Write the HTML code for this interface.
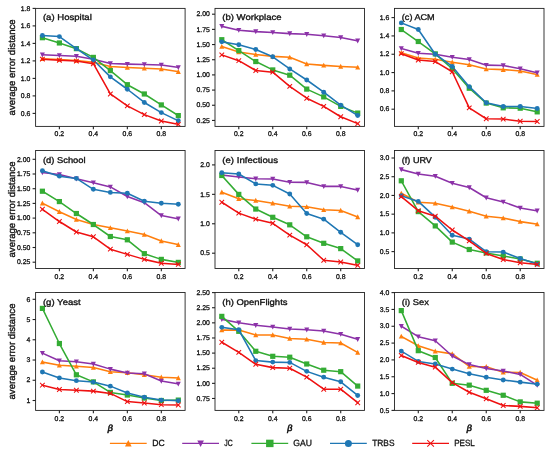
<!DOCTYPE html><html><head><meta charset="utf-8"><style>html,body{margin:0;padding:0;background:#fff;}svg{display:block;filter:blur(0.4px);}text{font-family:"Liberation Sans",sans-serif;text-rendering:geometricPrecision;fill:#111;stroke:#111;stroke-width:0.22px;}</style></head><body>
<svg width="550" height="452" viewBox="0 0 550 452">
<rect width="550" height="452" fill="#fff"/>
<clipPath id="c0"><rect x="35.60" y="8.40" width="149.50" height="118.00"/></clipPath>
<g clip-path="url(#c0)">
<polyline points="42.40,58.71 59.38,59.59 76.37,60.46 93.36,62.21 110.35,66.41 127.34,67.46 144.33,68.34 161.32,68.95 178.30,71.66" fill="none" stroke="#ff7f0e" stroke-width="1.55" stroke-linejoin="round" stroke-linecap="square"/>
<polygon points="42.40,56.06 39.88,60.96 44.91,60.96" fill="#ff7f0e"/>
<polygon points="59.38,56.94 56.87,61.84 61.90,61.84" fill="#ff7f0e"/>
<polygon points="76.37,57.81 73.86,62.71 78.89,62.71" fill="#ff7f0e"/>
<polygon points="93.36,59.56 90.84,64.47 95.88,64.47" fill="#ff7f0e"/>
<polygon points="110.35,63.76 107.83,68.67 112.87,68.67" fill="#ff7f0e"/>
<polygon points="127.34,64.81 124.82,69.72 129.86,69.72" fill="#ff7f0e"/>
<polygon points="144.33,65.69 141.81,70.59 146.84,70.59" fill="#ff7f0e"/>
<polygon points="161.32,66.30 158.80,71.20 163.83,71.20" fill="#ff7f0e"/>
<polygon points="178.30,69.01 175.79,73.92 180.82,73.92" fill="#ff7f0e"/>
<polyline points="42.40,54.77 59.38,55.48 76.37,56.35 93.36,59.15 110.35,63.53 127.34,64.14 144.33,64.40 161.32,64.93 178.30,67.46" fill="none" stroke="#8c32a8" stroke-width="1.55" stroke-linejoin="round" stroke-linecap="square"/>
<polygon points="42.40,57.42 39.88,52.52 44.91,52.52" fill="#8c32a8"/>
<polygon points="59.38,58.12 56.87,53.22 61.90,53.22" fill="#8c32a8"/>
<polygon points="76.37,59.00 73.86,54.10 78.89,54.10" fill="#8c32a8"/>
<polygon points="93.36,61.80 90.84,56.90 95.88,56.90" fill="#8c32a8"/>
<polygon points="110.35,66.18 107.83,61.27 112.87,61.27" fill="#8c32a8"/>
<polygon points="127.34,66.79 124.82,61.89 129.86,61.89" fill="#8c32a8"/>
<polygon points="144.33,67.05 141.81,62.15 146.84,62.15" fill="#8c32a8"/>
<polygon points="161.32,67.58 158.80,62.67 163.83,62.67" fill="#8c32a8"/>
<polygon points="178.30,70.11 175.79,65.21 180.82,65.21" fill="#8c32a8"/>
<polyline points="42.40,37.71 59.38,42.96 76.37,48.65 93.36,57.40 110.35,70.61 127.34,84.70 144.33,93.98 161.32,104.91 178.30,115.59" fill="none" stroke="#34ac34" stroke-width="1.55" stroke-linejoin="round" stroke-linecap="square"/>
<rect x="39.80" y="35.12" width="5.19" height="5.19" fill="#34ac34"/>
<rect x="56.79" y="40.37" width="5.19" height="5.19" fill="#34ac34"/>
<rect x="73.78" y="46.05" width="5.19" height="5.19" fill="#34ac34"/>
<rect x="90.76" y="54.80" width="5.19" height="5.19" fill="#34ac34"/>
<rect x="107.75" y="68.02" width="5.19" height="5.19" fill="#34ac34"/>
<rect x="124.74" y="82.10" width="5.19" height="5.19" fill="#34ac34"/>
<rect x="141.73" y="91.38" width="5.19" height="5.19" fill="#34ac34"/>
<rect x="158.72" y="102.32" width="5.19" height="5.19" fill="#34ac34"/>
<rect x="175.71" y="112.99" width="5.19" height="5.19" fill="#34ac34"/>
<polyline points="42.40,35.53 59.38,36.58 76.37,48.65 93.36,60.03 110.35,76.83 127.34,89.25 144.33,102.46 161.32,112.61 178.30,120.75" fill="none" stroke="#1f77b4" stroke-width="1.55" stroke-linejoin="round" stroke-linecap="square"/>
<circle cx="42.40" cy="35.53" r="2.44" fill="#1f77b4"/>
<circle cx="59.38" cy="36.58" r="2.44" fill="#1f77b4"/>
<circle cx="76.37" cy="48.65" r="2.44" fill="#1f77b4"/>
<circle cx="93.36" cy="60.03" r="2.44" fill="#1f77b4"/>
<circle cx="110.35" cy="76.83" r="2.44" fill="#1f77b4"/>
<circle cx="127.34" cy="89.25" r="2.44" fill="#1f77b4"/>
<circle cx="144.33" cy="102.46" r="2.44" fill="#1f77b4"/>
<circle cx="161.32" cy="112.61" r="2.44" fill="#1f77b4"/>
<circle cx="178.30" cy="120.75" r="2.44" fill="#1f77b4"/>
<polyline points="42.40,59.15 59.38,60.20 76.37,61.08 93.36,63.70 110.35,93.98 127.34,105.88 144.33,114.62 161.32,121.01 178.30,124.43" fill="none" stroke="#ee1111" stroke-width="1.55" stroke-linejoin="round" stroke-linecap="square"/>
<path d="M40.09 56.84L44.70 61.46M40.09 61.46L44.70 56.84" stroke="#ee1111" stroke-width="1.05" fill="none"/>
<path d="M57.08 57.89L61.69 62.51M57.08 62.51L61.69 57.89" stroke="#ee1111" stroke-width="1.05" fill="none"/>
<path d="M74.07 58.77L78.68 63.38M74.07 63.38L78.68 58.77" stroke="#ee1111" stroke-width="1.05" fill="none"/>
<path d="M91.06 61.39L95.67 66.01M91.06 66.01L95.67 61.39" stroke="#ee1111" stroke-width="1.05" fill="none"/>
<path d="M108.04 91.67L112.66 96.28M108.04 96.28L112.66 91.67" stroke="#ee1111" stroke-width="1.05" fill="none"/>
<path d="M125.03 103.57L129.64 108.18M125.03 108.18L129.64 103.57" stroke="#ee1111" stroke-width="1.05" fill="none"/>
<path d="M142.02 112.32L146.63 116.93M142.02 116.93L146.63 112.32" stroke="#ee1111" stroke-width="1.05" fill="none"/>
<path d="M159.01 118.71L163.62 123.32M159.01 123.32L163.62 118.71" stroke="#ee1111" stroke-width="1.05" fill="none"/>
<path d="M176.00 122.12L180.61 126.73M176.00 126.73L180.61 122.12" stroke="#ee1111" stroke-width="1.05" fill="none"/>
</g>
<rect x="35.60" y="8.40" width="149.50" height="118.00" fill="none" stroke="#222" stroke-width="0.9"/>
<line x1="32.60" y1="113.40" x2="35.60" y2="113.40" stroke="#222" stroke-width="1.1"/>
<text x="30.40" y="115.60" font-size="6.80" text-anchor="end" textLength="9.54" lengthAdjust="spacingAndGlyphs" style="stroke-width:0.28px">0.6</text>
<line x1="32.60" y1="95.90" x2="35.60" y2="95.90" stroke="#222" stroke-width="1.1"/>
<text x="30.40" y="98.10" font-size="6.80" text-anchor="end" textLength="9.54" lengthAdjust="spacingAndGlyphs" style="stroke-width:0.28px">0.8</text>
<line x1="32.60" y1="78.40" x2="35.60" y2="78.40" stroke="#222" stroke-width="1.1"/>
<text x="30.40" y="80.60" font-size="6.80" text-anchor="end" textLength="9.54" lengthAdjust="spacingAndGlyphs" style="stroke-width:0.28px">1.0</text>
<line x1="32.60" y1="60.90" x2="35.60" y2="60.90" stroke="#222" stroke-width="1.1"/>
<text x="30.40" y="63.10" font-size="6.80" text-anchor="end" textLength="9.54" lengthAdjust="spacingAndGlyphs" style="stroke-width:0.28px">1.2</text>
<line x1="32.60" y1="43.40" x2="35.60" y2="43.40" stroke="#222" stroke-width="1.1"/>
<text x="30.40" y="45.60" font-size="6.80" text-anchor="end" textLength="9.54" lengthAdjust="spacingAndGlyphs" style="stroke-width:0.28px">1.4</text>
<line x1="32.60" y1="25.90" x2="35.60" y2="25.90" stroke="#222" stroke-width="1.1"/>
<text x="30.40" y="28.10" font-size="6.80" text-anchor="end" textLength="9.54" lengthAdjust="spacingAndGlyphs" style="stroke-width:0.28px">1.6</text>
<line x1="32.60" y1="8.40" x2="35.60" y2="8.40" stroke="#222" stroke-width="1.1"/>
<text x="30.40" y="10.60" font-size="6.80" text-anchor="end" textLength="9.54" lengthAdjust="spacingAndGlyphs" style="stroke-width:0.28px">1.8</text>
<line x1="59.38" y1="126.40" x2="59.38" y2="129.20" stroke="#222" stroke-width="1.1"/>
<text x="59.38" y="136.40" font-size="6.80" text-anchor="middle" textLength="9.54" lengthAdjust="spacingAndGlyphs" style="stroke-width:0.28px">0.2</text>
<line x1="93.36" y1="126.40" x2="93.36" y2="129.20" stroke="#222" stroke-width="1.1"/>
<text x="93.36" y="136.40" font-size="6.80" text-anchor="middle" textLength="9.54" lengthAdjust="spacingAndGlyphs" style="stroke-width:0.28px">0.4</text>
<line x1="127.34" y1="126.40" x2="127.34" y2="129.20" stroke="#222" stroke-width="1.1"/>
<text x="127.34" y="136.40" font-size="6.80" text-anchor="middle" textLength="9.54" lengthAdjust="spacingAndGlyphs" style="stroke-width:0.28px">0.6</text>
<line x1="161.32" y1="126.40" x2="161.32" y2="129.20" stroke="#222" stroke-width="1.1"/>
<text x="161.32" y="136.40" font-size="6.80" text-anchor="middle" textLength="9.54" lengthAdjust="spacingAndGlyphs" style="stroke-width:0.28px">0.8</text>
<text x="42.90" y="20.20" font-size="8.40" text-anchor="start" textLength="48.93" lengthAdjust="spacingAndGlyphs" style="stroke-width:0.32px">(a) Hospital</text>
<clipPath id="c1"><rect x="215.00" y="8.40" width="149.50" height="118.00"/></clipPath>
<g clip-path="url(#c1)">
<polyline points="221.80,46.61 238.78,52.02 255.77,54.50 272.76,56.39 289.75,57.30 306.74,63.97 323.73,65.37 340.72,66.52 357.70,67.31" fill="none" stroke="#ff7f0e" stroke-width="1.55" stroke-linejoin="round" stroke-linecap="square"/>
<polygon points="221.80,43.96 219.28,48.87 224.31,48.87" fill="#ff7f0e"/>
<polygon points="238.78,49.37 236.27,54.27 241.30,54.27" fill="#ff7f0e"/>
<polygon points="255.77,51.85 253.26,56.76 258.29,56.76" fill="#ff7f0e"/>
<polygon points="272.76,53.74 270.24,58.64 275.28,58.64" fill="#ff7f0e"/>
<polygon points="289.75,54.65 287.23,59.55 292.27,59.55" fill="#ff7f0e"/>
<polygon points="306.74,61.32 304.22,66.23 309.26,66.23" fill="#ff7f0e"/>
<polygon points="323.73,62.72 321.21,67.62 326.24,67.62" fill="#ff7f0e"/>
<polygon points="340.72,63.87 338.20,68.78 343.23,68.78" fill="#ff7f0e"/>
<polygon points="357.70,64.66 355.19,69.56 360.22,69.56" fill="#ff7f0e"/>
<polyline points="221.80,26.34 238.78,30.22 255.77,31.62 272.76,32.41 289.75,33.62 306.74,34.29 323.73,35.69 340.72,37.51 357.70,40.79" fill="none" stroke="#8c32a8" stroke-width="1.55" stroke-linejoin="round" stroke-linecap="square"/>
<polygon points="221.80,28.99 219.28,24.09 224.31,24.09" fill="#8c32a8"/>
<polygon points="238.78,32.87 236.27,27.97 241.30,27.97" fill="#8c32a8"/>
<polygon points="255.77,34.27 253.26,29.37 258.29,29.37" fill="#8c32a8"/>
<polygon points="272.76,35.06 270.24,30.16 275.28,30.16" fill="#8c32a8"/>
<polygon points="289.75,36.27 287.23,31.37 292.27,31.37" fill="#8c32a8"/>
<polygon points="306.74,36.94 304.22,32.04 309.26,32.04" fill="#8c32a8"/>
<polygon points="323.73,38.34 321.21,33.44 326.24,33.44" fill="#8c32a8"/>
<polygon points="340.72,40.16 338.20,35.26 343.23,35.26" fill="#8c32a8"/>
<polygon points="357.70,43.44 355.19,38.53 360.22,38.53" fill="#8c32a8"/>
<polyline points="221.80,39.69 238.78,50.62 255.77,61.55 272.76,69.92 289.75,75.20 306.74,89.10 323.73,96.87 340.72,106.40 357.70,113.08" fill="none" stroke="#34ac34" stroke-width="1.55" stroke-linejoin="round" stroke-linecap="square"/>
<rect x="219.20" y="37.10" width="5.19" height="5.19" fill="#34ac34"/>
<rect x="236.19" y="48.02" width="5.19" height="5.19" fill="#34ac34"/>
<rect x="253.18" y="58.95" width="5.19" height="5.19" fill="#34ac34"/>
<rect x="270.16" y="67.33" width="5.19" height="5.19" fill="#34ac34"/>
<rect x="287.15" y="72.61" width="5.19" height="5.19" fill="#34ac34"/>
<rect x="304.14" y="86.51" width="5.19" height="5.19" fill="#34ac34"/>
<rect x="321.13" y="94.28" width="5.19" height="5.19" fill="#34ac34"/>
<rect x="338.12" y="103.81" width="5.19" height="5.19" fill="#34ac34"/>
<rect x="355.11" y="110.48" width="5.19" height="5.19" fill="#34ac34"/>
<polyline points="221.80,41.82 238.78,44.73 255.77,49.53 272.76,56.81 289.75,68.95 306.74,80.00 323.73,92.20 340.72,105.13 357.70,115.51" fill="none" stroke="#1f77b4" stroke-width="1.55" stroke-linejoin="round" stroke-linecap="square"/>
<circle cx="221.80" cy="41.82" r="2.44" fill="#1f77b4"/>
<circle cx="238.78" cy="44.73" r="2.44" fill="#1f77b4"/>
<circle cx="255.77" cy="49.53" r="2.44" fill="#1f77b4"/>
<circle cx="272.76" cy="56.81" r="2.44" fill="#1f77b4"/>
<circle cx="289.75" cy="68.95" r="2.44" fill="#1f77b4"/>
<circle cx="306.74" cy="80.00" r="2.44" fill="#1f77b4"/>
<circle cx="323.73" cy="92.20" r="2.44" fill="#1f77b4"/>
<circle cx="340.72" cy="105.13" r="2.44" fill="#1f77b4"/>
<circle cx="357.70" cy="115.51" r="2.44" fill="#1f77b4"/>
<polyline points="221.80,54.87 238.78,60.70 255.77,70.47 272.76,72.17 289.75,86.43 306.74,98.21 323.73,106.40 340.72,116.72 357.70,123.58" fill="none" stroke="#ee1111" stroke-width="1.55" stroke-linejoin="round" stroke-linecap="square"/>
<path d="M219.49 52.56L224.10 57.17M219.49 57.17L224.10 52.56" stroke="#ee1111" stroke-width="1.05" fill="none"/>
<path d="M236.48 58.39L241.09 63.00M236.48 63.00L241.09 58.39" stroke="#ee1111" stroke-width="1.05" fill="none"/>
<path d="M253.47 68.16L258.08 72.77M253.47 72.77L258.08 68.16" stroke="#ee1111" stroke-width="1.05" fill="none"/>
<path d="M270.46 69.86L275.07 74.47M270.46 74.47L275.07 69.86" stroke="#ee1111" stroke-width="1.05" fill="none"/>
<path d="M287.44 84.13L292.06 88.74M287.44 88.74L292.06 84.13" stroke="#ee1111" stroke-width="1.05" fill="none"/>
<path d="M304.43 95.90L309.04 100.51M304.43 100.51L309.04 95.90" stroke="#ee1111" stroke-width="1.05" fill="none"/>
<path d="M321.42 104.10L326.03 108.71M321.42 108.71L326.03 104.10" stroke="#ee1111" stroke-width="1.05" fill="none"/>
<path d="M338.41 114.42L343.02 119.03M338.41 119.03L343.02 114.42" stroke="#ee1111" stroke-width="1.05" fill="none"/>
<path d="M355.40 121.28L360.01 125.89M355.40 125.89L360.01 121.28" stroke="#ee1111" stroke-width="1.05" fill="none"/>
</g>
<rect x="215.00" y="8.40" width="149.50" height="118.00" fill="none" stroke="#222" stroke-width="0.9"/>
<line x1="212.00" y1="120.43" x2="215.00" y2="120.43" stroke="#222" stroke-width="1.1"/>
<text x="209.80" y="122.63" font-size="6.80" text-anchor="end" textLength="13.36" lengthAdjust="spacingAndGlyphs" style="stroke-width:0.28px">0.25</text>
<line x1="212.00" y1="105.25" x2="215.00" y2="105.25" stroke="#222" stroke-width="1.1"/>
<text x="209.80" y="107.45" font-size="6.80" text-anchor="end" textLength="13.36" lengthAdjust="spacingAndGlyphs" style="stroke-width:0.28px">0.50</text>
<line x1="212.00" y1="90.08" x2="215.00" y2="90.08" stroke="#222" stroke-width="1.1"/>
<text x="209.80" y="92.28" font-size="6.80" text-anchor="end" textLength="13.36" lengthAdjust="spacingAndGlyphs" style="stroke-width:0.28px">0.75</text>
<line x1="212.00" y1="74.90" x2="215.00" y2="74.90" stroke="#222" stroke-width="1.1"/>
<text x="209.80" y="77.10" font-size="6.80" text-anchor="end" textLength="13.36" lengthAdjust="spacingAndGlyphs" style="stroke-width:0.28px">1.00</text>
<line x1="212.00" y1="59.73" x2="215.00" y2="59.73" stroke="#222" stroke-width="1.1"/>
<text x="209.80" y="61.93" font-size="6.80" text-anchor="end" textLength="13.36" lengthAdjust="spacingAndGlyphs" style="stroke-width:0.28px">1.25</text>
<line x1="212.00" y1="44.55" x2="215.00" y2="44.55" stroke="#222" stroke-width="1.1"/>
<text x="209.80" y="46.75" font-size="6.80" text-anchor="end" textLength="13.36" lengthAdjust="spacingAndGlyphs" style="stroke-width:0.28px">1.50</text>
<line x1="212.00" y1="29.38" x2="215.00" y2="29.38" stroke="#222" stroke-width="1.1"/>
<text x="209.80" y="31.57" font-size="6.80" text-anchor="end" textLength="13.36" lengthAdjust="spacingAndGlyphs" style="stroke-width:0.28px">1.75</text>
<line x1="212.00" y1="14.20" x2="215.00" y2="14.20" stroke="#222" stroke-width="1.1"/>
<text x="209.80" y="16.40" font-size="6.80" text-anchor="end" textLength="13.36" lengthAdjust="spacingAndGlyphs" style="stroke-width:0.28px">2.00</text>
<line x1="238.78" y1="126.40" x2="238.78" y2="129.20" stroke="#222" stroke-width="1.1"/>
<text x="238.78" y="136.40" font-size="6.80" text-anchor="middle" textLength="9.54" lengthAdjust="spacingAndGlyphs" style="stroke-width:0.28px">0.2</text>
<line x1="272.76" y1="126.40" x2="272.76" y2="129.20" stroke="#222" stroke-width="1.1"/>
<text x="272.76" y="136.40" font-size="6.80" text-anchor="middle" textLength="9.54" lengthAdjust="spacingAndGlyphs" style="stroke-width:0.28px">0.4</text>
<line x1="306.74" y1="126.40" x2="306.74" y2="129.20" stroke="#222" stroke-width="1.1"/>
<text x="306.74" y="136.40" font-size="6.80" text-anchor="middle" textLength="9.54" lengthAdjust="spacingAndGlyphs" style="stroke-width:0.28px">0.6</text>
<line x1="340.72" y1="126.40" x2="340.72" y2="129.20" stroke="#222" stroke-width="1.1"/>
<text x="340.72" y="136.40" font-size="6.80" text-anchor="middle" textLength="9.54" lengthAdjust="spacingAndGlyphs" style="stroke-width:0.28px">0.8</text>
<text x="222.30" y="20.20" font-size="8.40" text-anchor="start" textLength="59.27" lengthAdjust="spacingAndGlyphs" style="stroke-width:0.32px">(b) Workplace</text>
<clipPath id="c2"><rect x="394.50" y="8.40" width="149.50" height="118.00"/></clipPath>
<g clip-path="url(#c2)">
<polyline points="401.30,52.68 418.28,58.09 435.27,59.28 452.26,62.21 469.25,64.77 486.24,69.08 503.23,69.63 520.22,70.91 537.20,74.48" fill="none" stroke="#ff7f0e" stroke-width="1.55" stroke-linejoin="round" stroke-linecap="square"/>
<polygon points="401.30,50.03 398.78,54.94 403.81,54.94" fill="#ff7f0e"/>
<polygon points="418.28,55.44 415.77,60.34 420.80,60.34" fill="#ff7f0e"/>
<polygon points="435.27,56.63 432.76,61.53 437.79,61.53" fill="#ff7f0e"/>
<polygon points="452.26,59.56 449.74,64.46 454.78,64.46" fill="#ff7f0e"/>
<polygon points="469.25,62.12 466.73,67.03 471.77,67.03" fill="#ff7f0e"/>
<polygon points="486.24,66.43 483.72,71.33 488.76,71.33" fill="#ff7f0e"/>
<polygon points="503.23,66.98 500.71,71.88 505.74,71.88" fill="#ff7f0e"/>
<polygon points="520.22,68.26 517.70,73.16 522.73,73.16" fill="#ff7f0e"/>
<polygon points="537.20,71.83 534.69,76.74 539.72,76.74" fill="#ff7f0e"/>
<polyline points="401.30,48.38 418.28,53.23 435.27,54.24 452.26,57.17 469.25,59.55 486.24,65.14 503.23,65.51 520.22,68.71 537.20,72.74" fill="none" stroke="#8c32a8" stroke-width="1.55" stroke-linejoin="round" stroke-linecap="square"/>
<polygon points="401.30,51.03 398.78,46.13 403.81,46.13" fill="#8c32a8"/>
<polygon points="418.28,55.88 415.77,50.98 420.80,50.98" fill="#8c32a8"/>
<polygon points="435.27,56.89 432.76,51.99 437.79,51.99" fill="#8c32a8"/>
<polygon points="452.26,59.82 449.74,54.92 454.78,54.92" fill="#8c32a8"/>
<polygon points="469.25,62.20 466.73,57.30 471.77,57.30" fill="#8c32a8"/>
<polygon points="486.24,67.79 483.72,62.89 488.76,62.89" fill="#8c32a8"/>
<polygon points="503.23,68.16 500.71,63.25 505.74,63.25" fill="#8c32a8"/>
<polygon points="520.22,71.36 517.70,66.46 522.73,66.46" fill="#8c32a8"/>
<polygon points="537.20,75.39 534.69,70.49 539.72,70.49" fill="#8c32a8"/>
<polyline points="401.30,29.51 418.28,41.51 435.27,53.87 452.26,68.71 469.25,88.22 486.24,103.06 503.23,107.83 520.22,108.19 537.20,111.86" fill="none" stroke="#34ac34" stroke-width="1.55" stroke-linejoin="round" stroke-linecap="square"/>
<rect x="398.70" y="26.91" width="5.19" height="5.19" fill="#34ac34"/>
<rect x="415.69" y="38.91" width="5.19" height="5.19" fill="#34ac34"/>
<rect x="432.68" y="51.28" width="5.19" height="5.19" fill="#34ac34"/>
<rect x="449.66" y="66.12" width="5.19" height="5.19" fill="#34ac34"/>
<rect x="466.65" y="85.63" width="5.19" height="5.19" fill="#34ac34"/>
<rect x="483.64" y="100.47" width="5.19" height="5.19" fill="#34ac34"/>
<rect x="500.63" y="105.23" width="5.19" height="5.19" fill="#34ac34"/>
<rect x="517.62" y="105.60" width="5.19" height="5.19" fill="#34ac34"/>
<rect x="534.61" y="109.26" width="5.19" height="5.19" fill="#34ac34"/>
<polyline points="401.30,22.91 418.28,29.51 435.27,54.24 452.26,66.42 469.25,86.67 486.24,102.70 503.23,106.45 520.22,106.45 537.20,108.47" fill="none" stroke="#1f77b4" stroke-width="1.55" stroke-linejoin="round" stroke-linecap="square"/>
<circle cx="401.30" cy="22.91" r="2.44" fill="#1f77b4"/>
<circle cx="418.28" cy="29.51" r="2.44" fill="#1f77b4"/>
<circle cx="435.27" cy="54.24" r="2.44" fill="#1f77b4"/>
<circle cx="452.26" cy="66.42" r="2.44" fill="#1f77b4"/>
<circle cx="469.25" cy="86.67" r="2.44" fill="#1f77b4"/>
<circle cx="486.24" cy="102.70" r="2.44" fill="#1f77b4"/>
<circle cx="503.23" cy="106.45" r="2.44" fill="#1f77b4"/>
<circle cx="520.22" cy="106.45" r="2.44" fill="#1f77b4"/>
<circle cx="537.20" cy="108.47" r="2.44" fill="#1f77b4"/>
<polyline points="401.30,53.69 418.28,60.01 435.27,61.57 452.26,71.74 469.25,107.83 486.24,118.73 503.23,119.09 520.22,121.29 537.20,121.47" fill="none" stroke="#ee1111" stroke-width="1.55" stroke-linejoin="round" stroke-linecap="square"/>
<path d="M398.99 51.38L403.60 56.00M398.99 56.00L403.60 51.38" stroke="#ee1111" stroke-width="1.05" fill="none"/>
<path d="M415.98 57.71L420.59 62.32M415.98 62.32L420.59 57.71" stroke="#ee1111" stroke-width="1.05" fill="none"/>
<path d="M432.97 59.26L437.58 63.87M432.97 63.87L437.58 59.26" stroke="#ee1111" stroke-width="1.05" fill="none"/>
<path d="M449.96 69.43L454.57 74.04M449.96 74.04L454.57 69.43" stroke="#ee1111" stroke-width="1.05" fill="none"/>
<path d="M466.94 105.52L471.56 110.13M466.94 110.13L471.56 105.52" stroke="#ee1111" stroke-width="1.05" fill="none"/>
<path d="M483.93 116.42L488.54 121.03M483.93 121.03L488.54 116.42" stroke="#ee1111" stroke-width="1.05" fill="none"/>
<path d="M500.92 116.79L505.53 121.40M500.92 121.40L505.53 116.79" stroke="#ee1111" stroke-width="1.05" fill="none"/>
<path d="M517.91 118.99L522.52 123.60M517.91 123.60L522.52 118.99" stroke="#ee1111" stroke-width="1.05" fill="none"/>
<path d="M534.90 119.17L539.51 123.78M534.90 123.78L539.51 119.17" stroke="#ee1111" stroke-width="1.05" fill="none"/>
</g>
<rect x="394.50" y="8.40" width="149.50" height="118.00" fill="none" stroke="#222" stroke-width="0.9"/>
<line x1="391.50" y1="109.20" x2="394.50" y2="109.20" stroke="#222" stroke-width="1.1"/>
<text x="389.30" y="111.40" font-size="6.80" text-anchor="end" textLength="9.54" lengthAdjust="spacingAndGlyphs" style="stroke-width:0.28px">0.6</text>
<line x1="391.50" y1="90.88" x2="394.50" y2="90.88" stroke="#222" stroke-width="1.1"/>
<text x="389.30" y="93.08" font-size="6.80" text-anchor="end" textLength="9.54" lengthAdjust="spacingAndGlyphs" style="stroke-width:0.28px">0.8</text>
<line x1="391.50" y1="72.56" x2="394.50" y2="72.56" stroke="#222" stroke-width="1.1"/>
<text x="389.30" y="74.76" font-size="6.80" text-anchor="end" textLength="9.54" lengthAdjust="spacingAndGlyphs" style="stroke-width:0.28px">1.0</text>
<line x1="391.50" y1="54.24" x2="394.50" y2="54.24" stroke="#222" stroke-width="1.1"/>
<text x="389.30" y="56.44" font-size="6.80" text-anchor="end" textLength="9.54" lengthAdjust="spacingAndGlyphs" style="stroke-width:0.28px">1.2</text>
<line x1="391.50" y1="35.92" x2="394.50" y2="35.92" stroke="#222" stroke-width="1.1"/>
<text x="389.30" y="38.12" font-size="6.80" text-anchor="end" textLength="9.54" lengthAdjust="spacingAndGlyphs" style="stroke-width:0.28px">1.4</text>
<line x1="391.50" y1="17.60" x2="394.50" y2="17.60" stroke="#222" stroke-width="1.1"/>
<text x="389.30" y="19.80" font-size="6.80" text-anchor="end" textLength="9.54" lengthAdjust="spacingAndGlyphs" style="stroke-width:0.28px">1.6</text>
<line x1="418.28" y1="126.40" x2="418.28" y2="129.20" stroke="#222" stroke-width="1.1"/>
<text x="418.28" y="136.40" font-size="6.80" text-anchor="middle" textLength="9.54" lengthAdjust="spacingAndGlyphs" style="stroke-width:0.28px">0.2</text>
<line x1="452.26" y1="126.40" x2="452.26" y2="129.20" stroke="#222" stroke-width="1.1"/>
<text x="452.26" y="136.40" font-size="6.80" text-anchor="middle" textLength="9.54" lengthAdjust="spacingAndGlyphs" style="stroke-width:0.28px">0.4</text>
<line x1="486.24" y1="126.40" x2="486.24" y2="129.20" stroke="#222" stroke-width="1.1"/>
<text x="486.24" y="136.40" font-size="6.80" text-anchor="middle" textLength="9.54" lengthAdjust="spacingAndGlyphs" style="stroke-width:0.28px">0.6</text>
<line x1="520.22" y1="126.40" x2="520.22" y2="129.20" stroke="#222" stroke-width="1.1"/>
<text x="520.22" y="136.40" font-size="6.80" text-anchor="middle" textLength="9.54" lengthAdjust="spacingAndGlyphs" style="stroke-width:0.28px">0.8</text>
<text x="401.80" y="20.20" font-size="8.40" text-anchor="start" textLength="32.90" lengthAdjust="spacingAndGlyphs" style="stroke-width:0.32px">(c) ACM</text>
<clipPath id="c3"><rect x="35.60" y="150.50" width="149.50" height="118.00"/></clipPath>
<g clip-path="url(#c3)">
<polyline points="42.40,203.22 59.38,211.69 76.37,219.51 93.36,224.51 110.35,227.80 127.34,231.09 144.33,234.56 161.32,240.91 178.30,244.68" fill="none" stroke="#ff7f0e" stroke-width="1.55" stroke-linejoin="round" stroke-linecap="square"/>
<polygon points="42.40,200.57 39.88,205.48 44.91,205.48" fill="#ff7f0e"/>
<polygon points="59.38,209.04 56.87,213.94 61.90,213.94" fill="#ff7f0e"/>
<polygon points="76.37,216.86 73.86,221.76 78.89,221.76" fill="#ff7f0e"/>
<polygon points="93.36,221.86 90.84,226.76 95.88,226.76" fill="#ff7f0e"/>
<polygon points="110.35,225.15 107.83,230.05 112.87,230.05" fill="#ff7f0e"/>
<polygon points="127.34,228.44 124.82,233.35 129.86,233.35" fill="#ff7f0e"/>
<polygon points="144.33,231.91 141.81,236.82 146.84,236.82" fill="#ff7f0e"/>
<polygon points="161.32,238.26 158.80,243.17 163.83,243.17" fill="#ff7f0e"/>
<polygon points="178.30,242.03 175.79,246.93 180.82,246.93" fill="#ff7f0e"/>
<polyline points="42.40,172.53 59.38,174.41 76.37,178.82 93.36,182.70 110.35,186.94 127.34,196.52 144.33,202.69 161.32,215.51 178.30,218.81" fill="none" stroke="#8c32a8" stroke-width="1.55" stroke-linejoin="round" stroke-linecap="square"/>
<polygon points="42.40,175.18 39.88,170.28 44.91,170.28" fill="#8c32a8"/>
<polygon points="59.38,177.06 56.87,172.16 61.90,172.16" fill="#8c32a8"/>
<polygon points="76.37,181.47 73.86,176.57 78.89,176.57" fill="#8c32a8"/>
<polygon points="93.36,185.35 90.84,180.45 95.88,180.45" fill="#8c32a8"/>
<polygon points="110.35,189.59 107.83,184.68 112.87,184.68" fill="#8c32a8"/>
<polygon points="127.34,199.17 124.82,194.27 129.86,194.27" fill="#8c32a8"/>
<polygon points="144.33,205.34 141.81,200.44 146.84,200.44" fill="#8c32a8"/>
<polygon points="161.32,218.16 158.80,213.26 163.83,213.26" fill="#8c32a8"/>
<polygon points="178.30,221.46 175.79,216.55 180.82,216.55" fill="#8c32a8"/>
<polyline points="42.40,191.23 59.38,201.58 76.37,213.51 93.36,224.51 110.35,236.50 127.34,239.80 144.33,253.67 161.32,259.38 178.30,262.38" fill="none" stroke="#34ac34" stroke-width="1.55" stroke-linejoin="round" stroke-linecap="square"/>
<rect x="39.80" y="188.63" width="5.19" height="5.19" fill="#34ac34"/>
<rect x="56.79" y="198.98" width="5.19" height="5.19" fill="#34ac34"/>
<rect x="73.78" y="210.92" width="5.19" height="5.19" fill="#34ac34"/>
<rect x="90.76" y="221.91" width="5.19" height="5.19" fill="#34ac34"/>
<rect x="107.75" y="233.91" width="5.19" height="5.19" fill="#34ac34"/>
<rect x="124.74" y="237.20" width="5.19" height="5.19" fill="#34ac34"/>
<rect x="141.73" y="251.08" width="5.19" height="5.19" fill="#34ac34"/>
<rect x="158.72" y="256.78" width="5.19" height="5.19" fill="#34ac34"/>
<rect x="175.71" y="259.78" width="5.19" height="5.19" fill="#34ac34"/>
<polyline points="42.40,170.71 59.38,176.18 76.37,178.41 93.36,189.29 110.35,192.40 127.34,193.23 144.33,201.22 161.32,203.28 178.30,204.22" fill="none" stroke="#1f77b4" stroke-width="1.55" stroke-linejoin="round" stroke-linecap="square"/>
<circle cx="42.40" cy="170.71" r="2.44" fill="#1f77b4"/>
<circle cx="59.38" cy="176.18" r="2.44" fill="#1f77b4"/>
<circle cx="76.37" cy="178.41" r="2.44" fill="#1f77b4"/>
<circle cx="93.36" cy="189.29" r="2.44" fill="#1f77b4"/>
<circle cx="110.35" cy="192.40" r="2.44" fill="#1f77b4"/>
<circle cx="127.34" cy="193.23" r="2.44" fill="#1f77b4"/>
<circle cx="144.33" cy="201.22" r="2.44" fill="#1f77b4"/>
<circle cx="161.32" cy="203.28" r="2.44" fill="#1f77b4"/>
<circle cx="178.30" cy="204.22" r="2.44" fill="#1f77b4"/>
<polyline points="42.40,209.28 59.38,221.51 76.37,231.98 93.36,236.80 110.35,249.15 127.34,254.38 144.33,259.38 161.32,263.20 178.30,264.38" fill="none" stroke="#ee1111" stroke-width="1.55" stroke-linejoin="round" stroke-linecap="square"/>
<path d="M40.09 206.97L44.70 211.59M40.09 211.59L44.70 206.97" stroke="#ee1111" stroke-width="1.05" fill="none"/>
<path d="M57.08 219.20L61.69 223.82M57.08 223.82L61.69 219.20" stroke="#ee1111" stroke-width="1.05" fill="none"/>
<path d="M74.07 229.67L78.68 234.28M74.07 234.28L78.68 229.67" stroke="#ee1111" stroke-width="1.05" fill="none"/>
<path d="M91.06 234.49L95.67 239.10M91.06 239.10L95.67 234.49" stroke="#ee1111" stroke-width="1.05" fill="none"/>
<path d="M108.04 246.84L112.66 251.45M108.04 251.45L112.66 246.84" stroke="#ee1111" stroke-width="1.05" fill="none"/>
<path d="M125.03 252.07L129.64 256.69M125.03 256.69L129.64 252.07" stroke="#ee1111" stroke-width="1.05" fill="none"/>
<path d="M142.02 257.07L146.63 261.68M142.02 261.68L146.63 257.07" stroke="#ee1111" stroke-width="1.05" fill="none"/>
<path d="M159.01 260.89L163.62 265.51M159.01 265.51L163.62 260.89" stroke="#ee1111" stroke-width="1.05" fill="none"/>
<path d="M176.00 262.07L180.61 266.68M176.00 266.68L180.61 262.07" stroke="#ee1111" stroke-width="1.05" fill="none"/>
</g>
<rect x="35.60" y="150.50" width="149.50" height="118.00" fill="none" stroke="#222" stroke-width="0.9"/>
<line x1="32.60" y1="262.20" x2="35.60" y2="262.20" stroke="#222" stroke-width="1.1"/>
<text x="30.40" y="264.40" font-size="6.80" text-anchor="end" textLength="13.36" lengthAdjust="spacingAndGlyphs" style="stroke-width:0.28px">0.25</text>
<line x1="32.60" y1="247.50" x2="35.60" y2="247.50" stroke="#222" stroke-width="1.1"/>
<text x="30.40" y="249.70" font-size="6.80" text-anchor="end" textLength="13.36" lengthAdjust="spacingAndGlyphs" style="stroke-width:0.28px">0.50</text>
<line x1="32.60" y1="232.80" x2="35.60" y2="232.80" stroke="#222" stroke-width="1.1"/>
<text x="30.40" y="235.00" font-size="6.80" text-anchor="end" textLength="13.36" lengthAdjust="spacingAndGlyphs" style="stroke-width:0.28px">0.75</text>
<line x1="32.60" y1="218.10" x2="35.60" y2="218.10" stroke="#222" stroke-width="1.1"/>
<text x="30.40" y="220.30" font-size="6.80" text-anchor="end" textLength="13.36" lengthAdjust="spacingAndGlyphs" style="stroke-width:0.28px">1.00</text>
<line x1="32.60" y1="203.40" x2="35.60" y2="203.40" stroke="#222" stroke-width="1.1"/>
<text x="30.40" y="205.60" font-size="6.80" text-anchor="end" textLength="13.36" lengthAdjust="spacingAndGlyphs" style="stroke-width:0.28px">1.25</text>
<line x1="32.60" y1="188.70" x2="35.60" y2="188.70" stroke="#222" stroke-width="1.1"/>
<text x="30.40" y="190.90" font-size="6.80" text-anchor="end" textLength="13.36" lengthAdjust="spacingAndGlyphs" style="stroke-width:0.28px">1.50</text>
<line x1="32.60" y1="174.00" x2="35.60" y2="174.00" stroke="#222" stroke-width="1.1"/>
<text x="30.40" y="176.20" font-size="6.80" text-anchor="end" textLength="13.36" lengthAdjust="spacingAndGlyphs" style="stroke-width:0.28px">1.75</text>
<line x1="32.60" y1="159.30" x2="35.60" y2="159.30" stroke="#222" stroke-width="1.1"/>
<text x="30.40" y="161.50" font-size="6.80" text-anchor="end" textLength="13.36" lengthAdjust="spacingAndGlyphs" style="stroke-width:0.28px">2.00</text>
<line x1="59.38" y1="268.50" x2="59.38" y2="271.30" stroke="#222" stroke-width="1.1"/>
<text x="59.38" y="278.50" font-size="6.80" text-anchor="middle" textLength="9.54" lengthAdjust="spacingAndGlyphs" style="stroke-width:0.28px">0.2</text>
<line x1="93.36" y1="268.50" x2="93.36" y2="271.30" stroke="#222" stroke-width="1.1"/>
<text x="93.36" y="278.50" font-size="6.80" text-anchor="middle" textLength="9.54" lengthAdjust="spacingAndGlyphs" style="stroke-width:0.28px">0.4</text>
<line x1="127.34" y1="268.50" x2="127.34" y2="271.30" stroke="#222" stroke-width="1.1"/>
<text x="127.34" y="278.50" font-size="6.80" text-anchor="middle" textLength="9.54" lengthAdjust="spacingAndGlyphs" style="stroke-width:0.28px">0.6</text>
<line x1="161.32" y1="268.50" x2="161.32" y2="271.30" stroke="#222" stroke-width="1.1"/>
<text x="161.32" y="278.50" font-size="6.80" text-anchor="middle" textLength="9.54" lengthAdjust="spacingAndGlyphs" style="stroke-width:0.28px">0.8</text>
<text x="42.90" y="162.80" font-size="8.40" text-anchor="start" textLength="42.70" lengthAdjust="spacingAndGlyphs" style="stroke-width:0.32px">(d) School</text>
<clipPath id="c4"><rect x="215.00" y="150.50" width="149.50" height="118.00"/></clipPath>
<g clip-path="url(#c4)">
<polyline points="221.80,192.22 238.78,198.69 255.77,200.52 272.76,203.17 289.75,206.29 306.74,206.82 323.73,209.82 340.72,210.52 357.70,217.00" fill="none" stroke="#ff7f0e" stroke-width="1.55" stroke-linejoin="round" stroke-linecap="square"/>
<polygon points="221.80,189.57 219.28,194.47 224.31,194.47" fill="#ff7f0e"/>
<polygon points="238.78,196.04 236.27,200.94 241.30,200.94" fill="#ff7f0e"/>
<polygon points="255.77,197.87 253.26,202.77 258.29,202.77" fill="#ff7f0e"/>
<polygon points="272.76,200.52 270.24,205.42 275.28,205.42" fill="#ff7f0e"/>
<polygon points="289.75,203.64 287.23,208.54 292.27,208.54" fill="#ff7f0e"/>
<polygon points="306.74,204.17 304.22,209.07 309.26,209.07" fill="#ff7f0e"/>
<polygon points="323.73,207.17 321.21,212.07 326.24,212.07" fill="#ff7f0e"/>
<polygon points="340.72,207.87 338.20,212.78 343.23,212.78" fill="#ff7f0e"/>
<polygon points="357.70,214.35 355.19,219.25 360.22,219.25" fill="#ff7f0e"/>
<polyline points="221.80,175.03 238.78,176.91 255.77,178.79 272.76,179.09 289.75,182.33 306.74,182.38 323.73,186.39 340.72,186.39 357.70,189.98" fill="none" stroke="#8c32a8" stroke-width="1.55" stroke-linejoin="round" stroke-linecap="square"/>
<polygon points="221.80,177.68 219.28,172.77 224.31,172.77" fill="#8c32a8"/>
<polygon points="238.78,179.56 236.27,174.66 241.30,174.66" fill="#8c32a8"/>
<polygon points="255.77,181.44 253.26,176.54 258.29,176.54" fill="#8c32a8"/>
<polygon points="272.76,181.74 270.24,176.84 275.28,176.84" fill="#8c32a8"/>
<polygon points="289.75,184.98 287.23,180.07 292.27,180.07" fill="#8c32a8"/>
<polygon points="306.74,185.03 304.22,180.13 309.26,180.13" fill="#8c32a8"/>
<polygon points="323.73,189.04 321.21,184.14 326.24,184.14" fill="#8c32a8"/>
<polygon points="340.72,189.04 338.20,184.14 343.23,184.14" fill="#8c32a8"/>
<polygon points="357.70,192.63 355.19,187.73 360.22,187.73" fill="#8c32a8"/>
<polyline points="221.80,175.50 238.78,194.39 255.77,209.05 272.76,217.29 289.75,224.83 306.74,236.78 323.73,243.31 340.72,248.61 357.70,260.92" fill="none" stroke="#34ac34" stroke-width="1.55" stroke-linejoin="round" stroke-linecap="square"/>
<rect x="219.20" y="172.90" width="5.19" height="5.19" fill="#34ac34"/>
<rect x="236.19" y="191.80" width="5.19" height="5.19" fill="#34ac34"/>
<rect x="253.18" y="206.46" width="5.19" height="5.19" fill="#34ac34"/>
<rect x="270.16" y="214.70" width="5.19" height="5.19" fill="#34ac34"/>
<rect x="287.15" y="222.23" width="5.19" height="5.19" fill="#34ac34"/>
<rect x="304.14" y="234.18" width="5.19" height="5.19" fill="#34ac34"/>
<rect x="321.13" y="240.72" width="5.19" height="5.19" fill="#34ac34"/>
<rect x="338.12" y="246.02" width="5.19" height="5.19" fill="#34ac34"/>
<rect x="355.11" y="258.32" width="5.19" height="5.19" fill="#34ac34"/>
<polyline points="221.80,172.79 238.78,174.02 255.77,183.92 272.76,185.33 289.75,194.04 306.74,213.53 323.73,219.18 340.72,232.31 357.70,244.73" fill="none" stroke="#1f77b4" stroke-width="1.55" stroke-linejoin="round" stroke-linecap="square"/>
<circle cx="221.80" cy="172.79" r="2.44" fill="#1f77b4"/>
<circle cx="238.78" cy="174.02" r="2.44" fill="#1f77b4"/>
<circle cx="255.77" cy="183.92" r="2.44" fill="#1f77b4"/>
<circle cx="272.76" cy="185.33" r="2.44" fill="#1f77b4"/>
<circle cx="289.75" cy="194.04" r="2.44" fill="#1f77b4"/>
<circle cx="306.74" cy="213.53" r="2.44" fill="#1f77b4"/>
<circle cx="323.73" cy="219.18" r="2.44" fill="#1f77b4"/>
<circle cx="340.72" cy="232.31" r="2.44" fill="#1f77b4"/>
<circle cx="357.70" cy="244.73" r="2.44" fill="#1f77b4"/>
<polyline points="221.80,202.22 238.78,213.11 255.77,219.18 272.76,223.30 289.75,235.07 306.74,244.79 323.73,260.21 340.72,261.98 357.70,265.39" fill="none" stroke="#ee1111" stroke-width="1.55" stroke-linejoin="round" stroke-linecap="square"/>
<path d="M219.49 199.92L224.10 204.53M219.49 204.53L224.10 199.92" stroke="#ee1111" stroke-width="1.05" fill="none"/>
<path d="M236.48 210.81L241.09 215.42M236.48 215.42L241.09 210.81" stroke="#ee1111" stroke-width="1.05" fill="none"/>
<path d="M253.47 216.87L258.08 221.48M253.47 221.48L258.08 216.87" stroke="#ee1111" stroke-width="1.05" fill="none"/>
<path d="M270.46 220.99L275.07 225.60M270.46 225.60L275.07 220.99" stroke="#ee1111" stroke-width="1.05" fill="none"/>
<path d="M287.44 232.77L292.06 237.38M287.44 237.38L292.06 232.77" stroke="#ee1111" stroke-width="1.05" fill="none"/>
<path d="M304.43 242.48L309.04 247.09M304.43 247.09L309.04 242.48" stroke="#ee1111" stroke-width="1.05" fill="none"/>
<path d="M321.42 257.91L326.03 262.52M321.42 262.52L326.03 257.91" stroke="#ee1111" stroke-width="1.05" fill="none"/>
<path d="M338.41 259.67L343.02 264.28M338.41 264.28L343.02 259.67" stroke="#ee1111" stroke-width="1.05" fill="none"/>
<path d="M355.40 263.09L360.01 267.70M355.40 267.70L360.01 263.09" stroke="#ee1111" stroke-width="1.05" fill="none"/>
</g>
<rect x="215.00" y="150.50" width="149.50" height="118.00" fill="none" stroke="#222" stroke-width="0.9"/>
<line x1="212.00" y1="253.20" x2="215.00" y2="253.20" stroke="#222" stroke-width="1.1"/>
<text x="209.80" y="255.40" font-size="6.80" text-anchor="end" textLength="9.54" lengthAdjust="spacingAndGlyphs" style="stroke-width:0.28px">0.5</text>
<line x1="212.00" y1="223.77" x2="215.00" y2="223.77" stroke="#222" stroke-width="1.1"/>
<text x="209.80" y="225.97" font-size="6.80" text-anchor="end" textLength="9.54" lengthAdjust="spacingAndGlyphs" style="stroke-width:0.28px">1.0</text>
<line x1="212.00" y1="194.34" x2="215.00" y2="194.34" stroke="#222" stroke-width="1.1"/>
<text x="209.80" y="196.53" font-size="6.80" text-anchor="end" textLength="9.54" lengthAdjust="spacingAndGlyphs" style="stroke-width:0.28px">1.5</text>
<line x1="212.00" y1="164.90" x2="215.00" y2="164.90" stroke="#222" stroke-width="1.1"/>
<text x="209.80" y="167.10" font-size="6.80" text-anchor="end" textLength="9.54" lengthAdjust="spacingAndGlyphs" style="stroke-width:0.28px">2.0</text>
<line x1="238.78" y1="268.50" x2="238.78" y2="271.30" stroke="#222" stroke-width="1.1"/>
<text x="238.78" y="278.50" font-size="6.80" text-anchor="middle" textLength="9.54" lengthAdjust="spacingAndGlyphs" style="stroke-width:0.28px">0.2</text>
<line x1="272.76" y1="268.50" x2="272.76" y2="271.30" stroke="#222" stroke-width="1.1"/>
<text x="272.76" y="278.50" font-size="6.80" text-anchor="middle" textLength="9.54" lengthAdjust="spacingAndGlyphs" style="stroke-width:0.28px">0.4</text>
<line x1="306.74" y1="268.50" x2="306.74" y2="271.30" stroke="#222" stroke-width="1.1"/>
<text x="306.74" y="278.50" font-size="6.80" text-anchor="middle" textLength="9.54" lengthAdjust="spacingAndGlyphs" style="stroke-width:0.28px">0.6</text>
<line x1="340.72" y1="268.50" x2="340.72" y2="271.30" stroke="#222" stroke-width="1.1"/>
<text x="340.72" y="278.50" font-size="6.80" text-anchor="middle" textLength="9.54" lengthAdjust="spacingAndGlyphs" style="stroke-width:0.28px">0.8</text>
<text x="222.30" y="162.80" font-size="8.40" text-anchor="start" textLength="55.73" lengthAdjust="spacingAndGlyphs" style="stroke-width:0.32px">(e) Infectious</text>
<clipPath id="c5"><rect x="394.50" y="150.50" width="149.50" height="118.00"/></clipPath>
<g clip-path="url(#c5)">
<polyline points="401.30,193.31 418.28,202.25 435.27,203.30 452.26,207.05 469.25,211.16 486.24,216.22 503.23,218.09 520.22,221.61 537.20,224.12" fill="none" stroke="#ff7f0e" stroke-width="1.55" stroke-linejoin="round" stroke-linecap="square"/>
<polygon points="401.30,190.66 398.78,195.56 403.81,195.56" fill="#ff7f0e"/>
<polygon points="418.28,199.60 415.77,204.51 420.80,204.51" fill="#ff7f0e"/>
<polygon points="435.27,200.65 432.76,205.55 437.79,205.55" fill="#ff7f0e"/>
<polygon points="452.26,204.40 449.74,209.30 454.78,209.30" fill="#ff7f0e"/>
<polygon points="469.25,208.51 466.73,213.42 471.77,213.42" fill="#ff7f0e"/>
<polygon points="486.24,213.57 483.72,218.47 488.76,218.47" fill="#ff7f0e"/>
<polygon points="503.23,215.44 500.71,220.34 505.74,220.34" fill="#ff7f0e"/>
<polygon points="520.22,218.96 517.70,223.86 522.73,223.86" fill="#ff7f0e"/>
<polygon points="537.20,221.47 534.69,226.37 539.72,226.37" fill="#ff7f0e"/>
<polyline points="401.30,169.61 418.28,173.99 435.27,176.20 452.26,183.20 469.25,187.50 486.24,197.76 503.23,201.88 520.22,208.02 537.20,210.79" fill="none" stroke="#8c32a8" stroke-width="1.55" stroke-linejoin="round" stroke-linecap="square"/>
<polygon points="401.30,172.26 398.78,167.35 403.81,167.35" fill="#8c32a8"/>
<polygon points="418.28,176.64 415.77,171.73 420.80,171.73" fill="#8c32a8"/>
<polygon points="435.27,178.85 432.76,173.94 437.79,173.94" fill="#8c32a8"/>
<polygon points="452.26,185.85 449.74,180.94 454.78,180.94" fill="#8c32a8"/>
<polygon points="469.25,190.15 466.73,185.25 471.77,185.25" fill="#8c32a8"/>
<polygon points="486.24,200.41 483.72,195.51 488.76,195.51" fill="#8c32a8"/>
<polygon points="503.23,204.53 500.71,199.63 505.74,199.63" fill="#8c32a8"/>
<polygon points="520.22,210.67 517.70,205.77 522.73,205.77" fill="#8c32a8"/>
<polygon points="537.20,213.44 534.69,208.54 539.72,208.54" fill="#8c32a8"/>
<polyline points="401.30,180.80 418.28,211.61 435.27,225.92 452.26,242.09 469.25,249.50 486.24,252.91 503.23,255.91 520.22,259.01 537.20,263.28" fill="none" stroke="#34ac34" stroke-width="1.55" stroke-linejoin="round" stroke-linecap="square"/>
<rect x="398.70" y="178.20" width="5.19" height="5.19" fill="#34ac34"/>
<rect x="415.69" y="209.02" width="5.19" height="5.19" fill="#34ac34"/>
<rect x="432.68" y="223.32" width="5.19" height="5.19" fill="#34ac34"/>
<rect x="449.66" y="239.49" width="5.19" height="5.19" fill="#34ac34"/>
<rect x="466.65" y="246.91" width="5.19" height="5.19" fill="#34ac34"/>
<rect x="483.64" y="250.31" width="5.19" height="5.19" fill="#34ac34"/>
<rect x="500.63" y="253.31" width="5.19" height="5.19" fill="#34ac34"/>
<rect x="517.62" y="256.42" width="5.19" height="5.19" fill="#34ac34"/>
<rect x="534.61" y="260.68" width="5.19" height="5.19" fill="#34ac34"/>
<polyline points="401.30,195.74 418.28,201.43 435.27,217.19 452.26,235.20 469.25,239.10 486.24,251.71 503.23,252.09 520.22,258.41 537.20,264.10" fill="none" stroke="#1f77b4" stroke-width="1.55" stroke-linejoin="round" stroke-linecap="square"/>
<circle cx="401.30" cy="195.74" r="2.44" fill="#1f77b4"/>
<circle cx="418.28" cy="201.43" r="2.44" fill="#1f77b4"/>
<circle cx="435.27" cy="217.19" r="2.44" fill="#1f77b4"/>
<circle cx="452.26" cy="235.20" r="2.44" fill="#1f77b4"/>
<circle cx="469.25" cy="239.10" r="2.44" fill="#1f77b4"/>
<circle cx="486.24" cy="251.71" r="2.44" fill="#1f77b4"/>
<circle cx="503.23" cy="252.09" r="2.44" fill="#1f77b4"/>
<circle cx="520.22" cy="258.41" r="2.44" fill="#1f77b4"/>
<circle cx="537.20" cy="264.10" r="2.44" fill="#1f77b4"/>
<polyline points="401.30,196.64 418.28,210.72 435.27,216.22 452.26,230.00 469.25,240.93 486.24,253.40 503.23,259.50 520.22,262.79 537.20,264.48" fill="none" stroke="#ee1111" stroke-width="1.55" stroke-linejoin="round" stroke-linecap="square"/>
<path d="M398.99 194.33L403.60 198.94M398.99 198.94L403.60 194.33" stroke="#ee1111" stroke-width="1.05" fill="none"/>
<path d="M415.98 208.41L420.59 213.02M415.98 213.02L420.59 208.41" stroke="#ee1111" stroke-width="1.05" fill="none"/>
<path d="M432.97 213.91L437.58 218.52M432.97 218.52L437.58 213.91" stroke="#ee1111" stroke-width="1.05" fill="none"/>
<path d="M449.96 227.69L454.57 232.30M449.96 232.30L454.57 227.69" stroke="#ee1111" stroke-width="1.05" fill="none"/>
<path d="M466.94 238.62L471.56 243.24M466.94 243.24L471.56 238.62" stroke="#ee1111" stroke-width="1.05" fill="none"/>
<path d="M483.93 251.09L488.54 255.70M483.93 255.70L488.54 251.09" stroke="#ee1111" stroke-width="1.05" fill="none"/>
<path d="M500.92 257.19L505.53 261.81M500.92 261.81L505.53 257.19" stroke="#ee1111" stroke-width="1.05" fill="none"/>
<path d="M517.91 260.49L522.52 265.10M517.91 265.10L522.52 260.49" stroke="#ee1111" stroke-width="1.05" fill="none"/>
<path d="M534.90 262.17L539.51 266.78M534.90 266.78L539.51 262.17" stroke="#ee1111" stroke-width="1.05" fill="none"/>
</g>
<rect x="394.50" y="150.50" width="149.50" height="118.00" fill="none" stroke="#222" stroke-width="0.9"/>
<line x1="391.50" y1="251.60" x2="394.50" y2="251.60" stroke="#222" stroke-width="1.1"/>
<text x="389.30" y="253.80" font-size="6.80" text-anchor="end" textLength="9.54" lengthAdjust="spacingAndGlyphs" style="stroke-width:0.28px">0.5</text>
<line x1="391.50" y1="232.88" x2="394.50" y2="232.88" stroke="#222" stroke-width="1.1"/>
<text x="389.30" y="235.08" font-size="6.80" text-anchor="end" textLength="9.54" lengthAdjust="spacingAndGlyphs" style="stroke-width:0.28px">1.0</text>
<line x1="391.50" y1="214.16" x2="394.50" y2="214.16" stroke="#222" stroke-width="1.1"/>
<text x="389.30" y="216.36" font-size="6.80" text-anchor="end" textLength="9.54" lengthAdjust="spacingAndGlyphs" style="stroke-width:0.28px">1.5</text>
<line x1="391.50" y1="195.44" x2="394.50" y2="195.44" stroke="#222" stroke-width="1.1"/>
<text x="389.30" y="197.64" font-size="6.80" text-anchor="end" textLength="9.54" lengthAdjust="spacingAndGlyphs" style="stroke-width:0.28px">2.0</text>
<line x1="391.50" y1="176.72" x2="394.50" y2="176.72" stroke="#222" stroke-width="1.1"/>
<text x="389.30" y="178.92" font-size="6.80" text-anchor="end" textLength="9.54" lengthAdjust="spacingAndGlyphs" style="stroke-width:0.28px">2.5</text>
<line x1="391.50" y1="158.00" x2="394.50" y2="158.00" stroke="#222" stroke-width="1.1"/>
<text x="389.30" y="160.20" font-size="6.80" text-anchor="end" textLength="9.54" lengthAdjust="spacingAndGlyphs" style="stroke-width:0.28px">3.0</text>
<line x1="418.28" y1="268.50" x2="418.28" y2="271.30" stroke="#222" stroke-width="1.1"/>
<text x="418.28" y="278.50" font-size="6.80" text-anchor="middle" textLength="9.54" lengthAdjust="spacingAndGlyphs" style="stroke-width:0.28px">0.2</text>
<line x1="452.26" y1="268.50" x2="452.26" y2="271.30" stroke="#222" stroke-width="1.1"/>
<text x="452.26" y="278.50" font-size="6.80" text-anchor="middle" textLength="9.54" lengthAdjust="spacingAndGlyphs" style="stroke-width:0.28px">0.4</text>
<line x1="486.24" y1="268.50" x2="486.24" y2="271.30" stroke="#222" stroke-width="1.1"/>
<text x="486.24" y="278.50" font-size="6.80" text-anchor="middle" textLength="9.54" lengthAdjust="spacingAndGlyphs" style="stroke-width:0.28px">0.6</text>
<line x1="520.22" y1="268.50" x2="520.22" y2="271.30" stroke="#222" stroke-width="1.1"/>
<text x="520.22" y="278.50" font-size="6.80" text-anchor="middle" textLength="9.54" lengthAdjust="spacingAndGlyphs" style="stroke-width:0.28px">0.8</text>
<text x="401.80" y="162.80" font-size="8.40" text-anchor="start" textLength="30.09" lengthAdjust="spacingAndGlyphs" style="stroke-width:0.32px">(f) URV</text>
<clipPath id="c6"><rect x="35.60" y="292.50" width="149.50" height="117.90"/></clipPath>
<g clip-path="url(#c6)">
<polyline points="42.40,362.04 59.38,365.20 76.37,366.29 93.36,367.59 110.35,371.76 127.34,372.77 144.33,374.80 161.32,377.22 178.30,377.91" fill="none" stroke="#ff7f0e" stroke-width="1.55" stroke-linejoin="round" stroke-linecap="square"/>
<polygon points="42.40,359.39 39.88,364.30 44.91,364.30" fill="#ff7f0e"/>
<polygon points="59.38,362.55 56.87,367.45 61.90,367.45" fill="#ff7f0e"/>
<polygon points="76.37,363.64 73.86,368.55 78.89,368.55" fill="#ff7f0e"/>
<polygon points="93.36,364.94 90.84,369.84 95.88,369.84" fill="#ff7f0e"/>
<polygon points="110.35,369.11 107.83,374.01 112.87,374.01" fill="#ff7f0e"/>
<polygon points="127.34,370.12 124.82,375.02 129.86,375.02" fill="#ff7f0e"/>
<polygon points="144.33,372.15 141.81,377.05 146.84,377.05" fill="#ff7f0e"/>
<polygon points="161.32,374.57 158.80,379.48 163.83,379.48" fill="#ff7f0e"/>
<polygon points="178.30,375.26 175.79,380.16 180.82,380.16" fill="#ff7f0e"/>
<polyline points="42.40,353.20 59.38,360.83 76.37,361.70 93.36,364.07 110.35,369.13 127.34,372.97 144.33,373.78 161.32,381.07 178.30,383.90" fill="none" stroke="#8c32a8" stroke-width="1.55" stroke-linejoin="round" stroke-linecap="square"/>
<polygon points="42.40,355.85 39.88,350.95 44.91,350.95" fill="#8c32a8"/>
<polygon points="59.38,363.48 56.87,358.58 61.90,358.58" fill="#8c32a8"/>
<polygon points="76.37,364.35 73.86,359.45 78.89,359.45" fill="#8c32a8"/>
<polygon points="93.36,366.72 90.84,361.82 95.88,361.82" fill="#8c32a8"/>
<polygon points="110.35,371.78 107.83,366.88 112.87,366.88" fill="#8c32a8"/>
<polygon points="127.34,375.62 124.82,370.72 129.86,370.72" fill="#8c32a8"/>
<polygon points="144.33,376.43 141.81,371.53 146.84,371.53" fill="#8c32a8"/>
<polygon points="161.32,383.72 158.80,378.82 163.83,378.82" fill="#8c32a8"/>
<polygon points="178.30,386.55 175.79,381.65 180.82,381.65" fill="#8c32a8"/>
<polyline points="42.40,308.41 59.38,343.52 76.37,374.80 93.36,381.88 110.35,392.40 127.34,395.04 144.33,398.07 161.32,400.50 178.30,400.10" fill="none" stroke="#34ac34" stroke-width="1.55" stroke-linejoin="round" stroke-linecap="square"/>
<rect x="39.80" y="305.81" width="5.19" height="5.19" fill="#34ac34"/>
<rect x="56.79" y="340.93" width="5.19" height="5.19" fill="#34ac34"/>
<rect x="73.78" y="372.20" width="5.19" height="5.19" fill="#34ac34"/>
<rect x="90.76" y="379.28" width="5.19" height="5.19" fill="#34ac34"/>
<rect x="107.75" y="389.81" width="5.19" height="5.19" fill="#34ac34"/>
<rect x="124.74" y="392.44" width="5.19" height="5.19" fill="#34ac34"/>
<rect x="141.73" y="395.47" width="5.19" height="5.19" fill="#34ac34"/>
<rect x="158.72" y="397.90" width="5.19" height="5.19" fill="#34ac34"/>
<rect x="175.71" y="397.50" width="5.19" height="5.19" fill="#34ac34"/>
<polyline points="42.40,371.96 59.38,377.91 76.37,380.66 93.36,382.08 110.35,386.13 127.34,392.91 144.33,397.26 161.32,400.10 178.30,400.80" fill="none" stroke="#1f77b4" stroke-width="1.55" stroke-linejoin="round" stroke-linecap="square"/>
<circle cx="42.40" cy="371.96" r="2.44" fill="#1f77b4"/>
<circle cx="59.38" cy="377.91" r="2.44" fill="#1f77b4"/>
<circle cx="76.37" cy="380.66" r="2.44" fill="#1f77b4"/>
<circle cx="93.36" cy="382.08" r="2.44" fill="#1f77b4"/>
<circle cx="110.35" cy="386.13" r="2.44" fill="#1f77b4"/>
<circle cx="127.34" cy="392.91" r="2.44" fill="#1f77b4"/>
<circle cx="144.33" cy="397.26" r="2.44" fill="#1f77b4"/>
<circle cx="161.32" cy="400.10" r="2.44" fill="#1f77b4"/>
<circle cx="178.30" cy="400.80" r="2.44" fill="#1f77b4"/>
<polyline points="42.40,385.20 59.38,389.49 76.37,390.30 93.36,391.11 110.35,393.42 127.34,401.59 144.33,402.99 161.32,404.69 178.30,404.95" fill="none" stroke="#ee1111" stroke-width="1.55" stroke-linejoin="round" stroke-linecap="square"/>
<path d="M40.09 382.89L44.70 387.50M40.09 387.50L44.70 382.89" stroke="#ee1111" stroke-width="1.05" fill="none"/>
<path d="M57.08 387.18L61.69 391.79M57.08 391.79L61.69 387.18" stroke="#ee1111" stroke-width="1.05" fill="none"/>
<path d="M74.07 387.99L78.68 392.60M74.07 392.60L78.68 387.99" stroke="#ee1111" stroke-width="1.05" fill="none"/>
<path d="M91.06 388.80L95.67 393.41M91.06 393.41L95.67 388.80" stroke="#ee1111" stroke-width="1.05" fill="none"/>
<path d="M108.04 391.11L112.66 395.72M108.04 395.72L112.66 391.11" stroke="#ee1111" stroke-width="1.05" fill="none"/>
<path d="M125.03 399.29L129.64 403.90M125.03 403.90L129.64 399.29" stroke="#ee1111" stroke-width="1.05" fill="none"/>
<path d="M142.02 400.68L146.63 405.30M142.02 405.30L146.63 400.68" stroke="#ee1111" stroke-width="1.05" fill="none"/>
<path d="M159.01 402.38L163.62 407.00M159.01 407.00L163.62 402.38" stroke="#ee1111" stroke-width="1.05" fill="none"/>
<path d="M176.00 402.65L180.61 407.26M176.00 407.26L180.61 402.65" stroke="#ee1111" stroke-width="1.05" fill="none"/>
</g>
<rect x="35.60" y="292.50" width="149.50" height="117.90" fill="none" stroke="#222" stroke-width="0.9"/>
<line x1="32.60" y1="400.50" x2="35.60" y2="400.50" stroke="#222" stroke-width="1.1"/>
<text x="30.40" y="402.70" font-size="6.80" text-anchor="end" textLength="3.82" lengthAdjust="spacingAndGlyphs" style="stroke-width:0.28px">1</text>
<line x1="32.60" y1="380.26" x2="35.60" y2="380.26" stroke="#222" stroke-width="1.1"/>
<text x="30.40" y="382.46" font-size="6.80" text-anchor="end" textLength="3.82" lengthAdjust="spacingAndGlyphs" style="stroke-width:0.28px">2</text>
<line x1="32.60" y1="360.02" x2="35.60" y2="360.02" stroke="#222" stroke-width="1.1"/>
<text x="30.40" y="362.22" font-size="6.80" text-anchor="end" textLength="3.82" lengthAdjust="spacingAndGlyphs" style="stroke-width:0.28px">3</text>
<line x1="32.60" y1="339.78" x2="35.60" y2="339.78" stroke="#222" stroke-width="1.1"/>
<text x="30.40" y="341.98" font-size="6.80" text-anchor="end" textLength="3.82" lengthAdjust="spacingAndGlyphs" style="stroke-width:0.28px">4</text>
<line x1="32.60" y1="319.54" x2="35.60" y2="319.54" stroke="#222" stroke-width="1.1"/>
<text x="30.40" y="321.74" font-size="6.80" text-anchor="end" textLength="3.82" lengthAdjust="spacingAndGlyphs" style="stroke-width:0.28px">5</text>
<line x1="32.60" y1="299.30" x2="35.60" y2="299.30" stroke="#222" stroke-width="1.1"/>
<text x="30.40" y="301.50" font-size="6.80" text-anchor="end" textLength="3.82" lengthAdjust="spacingAndGlyphs" style="stroke-width:0.28px">6</text>
<line x1="59.38" y1="410.40" x2="59.38" y2="413.20" stroke="#222" stroke-width="1.1"/>
<text x="59.38" y="420.90" font-size="6.80" text-anchor="middle" textLength="9.54" lengthAdjust="spacingAndGlyphs" style="stroke-width:0.28px">0.2</text>
<line x1="93.36" y1="410.40" x2="93.36" y2="413.20" stroke="#222" stroke-width="1.1"/>
<text x="93.36" y="420.90" font-size="6.80" text-anchor="middle" textLength="9.54" lengthAdjust="spacingAndGlyphs" style="stroke-width:0.28px">0.4</text>
<line x1="127.34" y1="410.40" x2="127.34" y2="413.20" stroke="#222" stroke-width="1.1"/>
<text x="127.34" y="420.90" font-size="6.80" text-anchor="middle" textLength="9.54" lengthAdjust="spacingAndGlyphs" style="stroke-width:0.28px">0.6</text>
<line x1="161.32" y1="410.40" x2="161.32" y2="413.20" stroke="#222" stroke-width="1.1"/>
<text x="161.32" y="420.90" font-size="6.80" text-anchor="middle" textLength="9.54" lengthAdjust="spacingAndGlyphs" style="stroke-width:0.28px">0.8</text>
<text x="42.90" y="304.80" font-size="8.40" text-anchor="start" textLength="37.90" lengthAdjust="spacingAndGlyphs" style="stroke-width:0.32px">(g) Yeast</text>
<clipPath id="c7"><rect x="215.00" y="292.50" width="149.50" height="117.90"/></clipPath>
<g clip-path="url(#c7)">
<polyline points="221.80,330.11 238.78,330.11 255.77,334.95 272.76,334.95 289.75,338.52 306.74,339.31 323.73,342.51 340.72,343.00 357.70,352.50" fill="none" stroke="#ff7f0e" stroke-width="1.55" stroke-linejoin="round" stroke-linecap="square"/>
<polygon points="221.80,327.46 219.28,332.36 224.31,332.36" fill="#ff7f0e"/>
<polygon points="238.78,327.46 236.27,332.36 241.30,332.36" fill="#ff7f0e"/>
<polygon points="255.77,332.30 253.26,337.20 258.29,337.20" fill="#ff7f0e"/>
<polygon points="272.76,332.30 270.24,337.20 275.28,337.20" fill="#ff7f0e"/>
<polygon points="289.75,335.87 287.23,340.77 292.27,340.77" fill="#ff7f0e"/>
<polygon points="306.74,336.66 304.22,341.56 309.26,341.56" fill="#ff7f0e"/>
<polygon points="323.73,339.86 321.21,344.77 326.24,344.77" fill="#ff7f0e"/>
<polygon points="340.72,340.35 338.20,345.25 343.23,345.25" fill="#ff7f0e"/>
<polygon points="357.70,349.85 355.19,354.75 360.22,354.75" fill="#ff7f0e"/>
<polyline points="221.80,319.28 238.78,322.85 255.77,325.27 272.76,326.90 289.75,329.08 306.74,329.81 323.73,331.02 340.72,334.22 357.70,339.31" fill="none" stroke="#8c32a8" stroke-width="1.55" stroke-linejoin="round" stroke-linecap="square"/>
<polygon points="221.80,321.93 219.28,317.03 224.31,317.03" fill="#8c32a8"/>
<polygon points="238.78,325.50 236.27,320.60 241.30,320.60" fill="#8c32a8"/>
<polygon points="255.77,327.92 253.26,323.02 258.29,323.02" fill="#8c32a8"/>
<polygon points="272.76,329.55 270.24,324.65 275.28,324.65" fill="#8c32a8"/>
<polygon points="289.75,331.73 287.23,326.83 292.27,326.83" fill="#8c32a8"/>
<polygon points="306.74,332.46 304.22,327.56 309.26,327.56" fill="#8c32a8"/>
<polygon points="323.73,333.67 321.21,328.77 326.24,328.77" fill="#8c32a8"/>
<polygon points="340.72,336.87 338.20,331.97 343.23,331.97" fill="#8c32a8"/>
<polygon points="357.70,341.96 355.19,337.05 360.22,337.05" fill="#8c32a8"/>
<polyline points="221.80,316.38 238.78,331.32 255.77,351.29 272.76,356.31 289.75,357.21 306.74,363.99 323.73,370.22 340.72,371.67 357.70,386.07" fill="none" stroke="#34ac34" stroke-width="1.55" stroke-linejoin="round" stroke-linecap="square"/>
<rect x="219.20" y="313.78" width="5.19" height="5.19" fill="#34ac34"/>
<rect x="236.19" y="328.72" width="5.19" height="5.19" fill="#34ac34"/>
<rect x="253.18" y="348.69" width="5.19" height="5.19" fill="#34ac34"/>
<rect x="270.16" y="353.71" width="5.19" height="5.19" fill="#34ac34"/>
<rect x="287.15" y="354.62" width="5.19" height="5.19" fill="#34ac34"/>
<rect x="304.14" y="361.39" width="5.19" height="5.19" fill="#34ac34"/>
<rect x="321.13" y="367.62" width="5.19" height="5.19" fill="#34ac34"/>
<rect x="338.12" y="369.08" width="5.19" height="5.19" fill="#34ac34"/>
<rect x="355.11" y="383.48" width="5.19" height="5.19" fill="#34ac34"/>
<polyline points="221.80,327.33 238.78,329.81 255.77,360.60 272.76,362.11 289.75,362.42 306.74,371.37 323.73,377.18 340.72,381.78 357.70,395.45" fill="none" stroke="#1f77b4" stroke-width="1.55" stroke-linejoin="round" stroke-linecap="square"/>
<circle cx="221.80" cy="327.33" r="2.44" fill="#1f77b4"/>
<circle cx="238.78" cy="329.81" r="2.44" fill="#1f77b4"/>
<circle cx="255.77" cy="360.60" r="2.44" fill="#1f77b4"/>
<circle cx="272.76" cy="362.11" r="2.44" fill="#1f77b4"/>
<circle cx="289.75" cy="362.42" r="2.44" fill="#1f77b4"/>
<circle cx="306.74" cy="371.37" r="2.44" fill="#1f77b4"/>
<circle cx="323.73" cy="377.18" r="2.44" fill="#1f77b4"/>
<circle cx="340.72" cy="381.78" r="2.44" fill="#1f77b4"/>
<circle cx="357.70" cy="395.45" r="2.44" fill="#1f77b4"/>
<polyline points="221.80,342.27 238.78,352.37 255.77,364.29 272.76,367.62 289.75,368.23 306.74,377.18 323.73,389.22 340.72,389.22 357.70,402.71" fill="none" stroke="#ee1111" stroke-width="1.55" stroke-linejoin="round" stroke-linecap="square"/>
<path d="M219.49 339.97L224.10 344.58M219.49 344.58L224.10 339.97" stroke="#ee1111" stroke-width="1.05" fill="none"/>
<path d="M236.48 350.07L241.09 354.68M236.48 354.68L241.09 350.07" stroke="#ee1111" stroke-width="1.05" fill="none"/>
<path d="M253.47 361.99L258.08 366.60M253.47 366.60L258.08 361.99" stroke="#ee1111" stroke-width="1.05" fill="none"/>
<path d="M270.46 365.31L275.07 369.93M270.46 369.93L275.07 365.31" stroke="#ee1111" stroke-width="1.05" fill="none"/>
<path d="M287.44 365.92L292.06 370.53M287.44 370.53L292.06 365.92" stroke="#ee1111" stroke-width="1.05" fill="none"/>
<path d="M304.43 374.87L309.04 379.48M304.43 379.48L309.04 374.87" stroke="#ee1111" stroke-width="1.05" fill="none"/>
<path d="M321.42 386.91L326.03 391.52M321.42 391.52L326.03 386.91" stroke="#ee1111" stroke-width="1.05" fill="none"/>
<path d="M338.41 386.91L343.02 391.52M338.41 391.52L343.02 386.91" stroke="#ee1111" stroke-width="1.05" fill="none"/>
<path d="M355.40 400.40L360.01 405.02M355.40 405.02L360.01 400.40" stroke="#ee1111" stroke-width="1.05" fill="none"/>
</g>
<rect x="215.00" y="292.50" width="149.50" height="117.90" fill="none" stroke="#222" stroke-width="0.9"/>
<line x1="212.00" y1="398.48" x2="215.00" y2="398.48" stroke="#222" stroke-width="1.1"/>
<text x="209.80" y="400.68" font-size="6.80" text-anchor="end" textLength="13.36" lengthAdjust="spacingAndGlyphs" style="stroke-width:0.28px">0.75</text>
<line x1="212.00" y1="383.35" x2="215.00" y2="383.35" stroke="#222" stroke-width="1.1"/>
<text x="209.80" y="385.55" font-size="6.80" text-anchor="end" textLength="13.36" lengthAdjust="spacingAndGlyphs" style="stroke-width:0.28px">1.00</text>
<line x1="212.00" y1="368.23" x2="215.00" y2="368.23" stroke="#222" stroke-width="1.1"/>
<text x="209.80" y="370.43" font-size="6.80" text-anchor="end" textLength="13.36" lengthAdjust="spacingAndGlyphs" style="stroke-width:0.28px">1.25</text>
<line x1="212.00" y1="353.10" x2="215.00" y2="353.10" stroke="#222" stroke-width="1.1"/>
<text x="209.80" y="355.30" font-size="6.80" text-anchor="end" textLength="13.36" lengthAdjust="spacingAndGlyphs" style="stroke-width:0.28px">1.50</text>
<line x1="212.00" y1="337.98" x2="215.00" y2="337.98" stroke="#222" stroke-width="1.1"/>
<text x="209.80" y="340.18" font-size="6.80" text-anchor="end" textLength="13.36" lengthAdjust="spacingAndGlyphs" style="stroke-width:0.28px">1.75</text>
<line x1="212.00" y1="322.85" x2="215.00" y2="322.85" stroke="#222" stroke-width="1.1"/>
<text x="209.80" y="325.05" font-size="6.80" text-anchor="end" textLength="13.36" lengthAdjust="spacingAndGlyphs" style="stroke-width:0.28px">2.00</text>
<line x1="212.00" y1="307.73" x2="215.00" y2="307.73" stroke="#222" stroke-width="1.1"/>
<text x="209.80" y="309.93" font-size="6.80" text-anchor="end" textLength="13.36" lengthAdjust="spacingAndGlyphs" style="stroke-width:0.28px">2.25</text>
<line x1="212.00" y1="292.60" x2="215.00" y2="292.60" stroke="#222" stroke-width="1.1"/>
<text x="209.80" y="294.80" font-size="6.80" text-anchor="end" textLength="13.36" lengthAdjust="spacingAndGlyphs" style="stroke-width:0.28px">2.50</text>
<line x1="238.78" y1="410.40" x2="238.78" y2="413.20" stroke="#222" stroke-width="1.1"/>
<text x="238.78" y="420.90" font-size="6.80" text-anchor="middle" textLength="9.54" lengthAdjust="spacingAndGlyphs" style="stroke-width:0.28px">0.2</text>
<line x1="272.76" y1="410.40" x2="272.76" y2="413.20" stroke="#222" stroke-width="1.1"/>
<text x="272.76" y="420.90" font-size="6.80" text-anchor="middle" textLength="9.54" lengthAdjust="spacingAndGlyphs" style="stroke-width:0.28px">0.4</text>
<line x1="306.74" y1="410.40" x2="306.74" y2="413.20" stroke="#222" stroke-width="1.1"/>
<text x="306.74" y="420.90" font-size="6.80" text-anchor="middle" textLength="9.54" lengthAdjust="spacingAndGlyphs" style="stroke-width:0.28px">0.6</text>
<line x1="340.72" y1="410.40" x2="340.72" y2="413.20" stroke="#222" stroke-width="1.1"/>
<text x="340.72" y="420.90" font-size="6.80" text-anchor="middle" textLength="9.54" lengthAdjust="spacingAndGlyphs" style="stroke-width:0.28px">0.8</text>
<text x="222.30" y="304.80" font-size="8.40" text-anchor="start" textLength="65.19" lengthAdjust="spacingAndGlyphs" style="stroke-width:0.32px">(h) OpenFlights</text>
<clipPath id="c8"><rect x="394.50" y="292.50" width="149.50" height="117.90"/></clipPath>
<g clip-path="url(#c8)">
<polyline points="401.30,336.36 418.28,345.78 435.27,351.17 452.26,353.86 469.25,366.48 486.24,366.65 503.23,372.21 520.22,372.51 537.20,380.12" fill="none" stroke="#ff7f0e" stroke-width="1.55" stroke-linejoin="round" stroke-linecap="square"/>
<polygon points="401.30,333.71 398.78,338.61 403.81,338.61" fill="#ff7f0e"/>
<polygon points="418.28,343.13 415.77,348.04 420.80,348.04" fill="#ff7f0e"/>
<polygon points="435.27,348.52 432.76,353.42 437.79,353.42" fill="#ff7f0e"/>
<polygon points="452.26,351.21 449.74,356.11 454.78,356.11" fill="#ff7f0e"/>
<polygon points="469.25,363.83 466.73,368.74 471.77,368.74" fill="#ff7f0e"/>
<polygon points="486.24,364.00 483.72,368.90 488.76,368.90" fill="#ff7f0e"/>
<polygon points="503.23,369.56 500.71,374.46 505.74,374.46" fill="#ff7f0e"/>
<polygon points="520.22,369.86 517.70,374.76 522.73,374.76" fill="#ff7f0e"/>
<polygon points="537.20,377.47 534.69,382.37 539.72,382.37" fill="#ff7f0e"/>
<polyline points="401.30,326.26 418.28,336.69 435.27,340.73 452.26,355.98 469.25,364.57 486.24,368.60 503.23,371.03 520.22,374.39 537.20,385.17" fill="none" stroke="#8c32a8" stroke-width="1.55" stroke-linejoin="round" stroke-linecap="square"/>
<polygon points="401.30,328.91 398.78,324.01 403.81,324.01" fill="#8c32a8"/>
<polygon points="418.28,339.34 415.77,334.44 420.80,334.44" fill="#8c32a8"/>
<polygon points="435.27,343.38 432.76,338.48 437.79,338.48" fill="#8c32a8"/>
<polygon points="452.26,358.63 449.74,353.73 454.78,353.73" fill="#8c32a8"/>
<polygon points="469.25,367.22 466.73,362.31 471.77,362.31" fill="#8c32a8"/>
<polygon points="486.24,371.25 483.72,366.35 488.76,366.35" fill="#8c32a8"/>
<polygon points="503.23,373.68 500.71,368.78 505.74,368.78" fill="#8c32a8"/>
<polygon points="520.22,377.04 517.70,372.14 522.73,372.14" fill="#8c32a8"/>
<polygon points="537.20,387.81 534.69,382.91 539.72,382.91" fill="#8c32a8"/>
<polyline points="401.30,310.61 418.28,350.66 435.27,357.50 452.26,383.31 469.25,385.17 486.24,390.31 503.23,395.26 520.22,401.89 537.20,403.21" fill="none" stroke="#34ac34" stroke-width="1.55" stroke-linejoin="round" stroke-linecap="square"/>
<rect x="398.70" y="308.01" width="5.19" height="5.19" fill="#34ac34"/>
<rect x="415.69" y="348.07" width="5.19" height="5.19" fill="#34ac34"/>
<rect x="432.68" y="354.90" width="5.19" height="5.19" fill="#34ac34"/>
<rect x="449.66" y="380.72" width="5.19" height="5.19" fill="#34ac34"/>
<rect x="466.65" y="382.57" width="5.19" height="5.19" fill="#34ac34"/>
<rect x="483.64" y="387.72" width="5.19" height="5.19" fill="#34ac34"/>
<rect x="500.63" y="392.67" width="5.19" height="5.19" fill="#34ac34"/>
<rect x="517.62" y="399.30" width="5.19" height="5.19" fill="#34ac34"/>
<rect x="534.61" y="400.61" width="5.19" height="5.19" fill="#34ac34"/>
<polyline points="401.30,351.10 418.28,361.40 435.27,363.99 452.26,369.11 469.25,373.72 486.24,377.19 503.23,379.98 520.22,382.14 537.20,384.16" fill="none" stroke="#1f77b4" stroke-width="1.55" stroke-linejoin="round" stroke-linecap="square"/>
<circle cx="401.30" cy="351.10" r="2.44" fill="#1f77b4"/>
<circle cx="418.28" cy="361.40" r="2.44" fill="#1f77b4"/>
<circle cx="435.27" cy="363.99" r="2.44" fill="#1f77b4"/>
<circle cx="452.26" cy="369.11" r="2.44" fill="#1f77b4"/>
<circle cx="469.25" cy="373.72" r="2.44" fill="#1f77b4"/>
<circle cx="486.24" cy="377.19" r="2.44" fill="#1f77b4"/>
<circle cx="503.23" cy="379.98" r="2.44" fill="#1f77b4"/>
<circle cx="520.22" cy="382.14" r="2.44" fill="#1f77b4"/>
<circle cx="537.20" cy="384.16" r="2.44" fill="#1f77b4"/>
<polyline points="401.30,355.54 418.28,362.41 435.27,367.16 452.26,382.57 469.25,392.23 486.24,398.80 503.23,405.50 520.22,406.37 537.20,407.72" fill="none" stroke="#ee1111" stroke-width="1.55" stroke-linejoin="round" stroke-linecap="square"/>
<path d="M398.99 353.24L403.60 357.85M398.99 357.85L403.60 353.24" stroke="#ee1111" stroke-width="1.05" fill="none"/>
<path d="M415.98 360.11L420.59 364.72M415.98 364.72L420.59 360.11" stroke="#ee1111" stroke-width="1.05" fill="none"/>
<path d="M432.97 364.85L437.58 369.46M432.97 369.46L437.58 364.85" stroke="#ee1111" stroke-width="1.05" fill="none"/>
<path d="M449.96 380.27L454.57 384.88M449.96 384.88L454.57 380.27" stroke="#ee1111" stroke-width="1.05" fill="none"/>
<path d="M466.94 389.93L471.56 394.54M466.94 394.54L471.56 389.93" stroke="#ee1111" stroke-width="1.05" fill="none"/>
<path d="M483.93 396.49L488.54 401.10M483.93 401.10L488.54 396.49" stroke="#ee1111" stroke-width="1.05" fill="none"/>
<path d="M500.92 403.19L505.53 407.80M500.92 407.80L505.53 403.19" stroke="#ee1111" stroke-width="1.05" fill="none"/>
<path d="M517.91 404.07L522.52 408.68M517.91 408.68L522.52 404.07" stroke="#ee1111" stroke-width="1.05" fill="none"/>
<path d="M534.90 405.41L539.51 410.02M534.90 410.02L539.51 405.41" stroke="#ee1111" stroke-width="1.05" fill="none"/>
</g>
<rect x="394.50" y="292.50" width="149.50" height="117.90" fill="none" stroke="#222" stroke-width="0.9"/>
<line x1="391.50" y1="410.41" x2="394.50" y2="410.41" stroke="#222" stroke-width="1.1"/>
<text x="389.30" y="412.61" font-size="6.80" text-anchor="end" textLength="9.54" lengthAdjust="spacingAndGlyphs" style="stroke-width:0.28px">0.5</text>
<line x1="391.50" y1="393.58" x2="394.50" y2="393.58" stroke="#222" stroke-width="1.1"/>
<text x="389.30" y="395.78" font-size="6.80" text-anchor="end" textLength="9.54" lengthAdjust="spacingAndGlyphs" style="stroke-width:0.28px">1.0</text>
<line x1="391.50" y1="376.75" x2="394.50" y2="376.75" stroke="#222" stroke-width="1.1"/>
<text x="389.30" y="378.95" font-size="6.80" text-anchor="end" textLength="9.54" lengthAdjust="spacingAndGlyphs" style="stroke-width:0.28px">1.5</text>
<line x1="391.50" y1="359.92" x2="394.50" y2="359.92" stroke="#222" stroke-width="1.1"/>
<text x="389.30" y="362.12" font-size="6.80" text-anchor="end" textLength="9.54" lengthAdjust="spacingAndGlyphs" style="stroke-width:0.28px">2.0</text>
<line x1="391.50" y1="343.09" x2="394.50" y2="343.09" stroke="#222" stroke-width="1.1"/>
<text x="389.30" y="345.29" font-size="6.80" text-anchor="end" textLength="9.54" lengthAdjust="spacingAndGlyphs" style="stroke-width:0.28px">2.5</text>
<line x1="391.50" y1="326.26" x2="394.50" y2="326.26" stroke="#222" stroke-width="1.1"/>
<text x="389.30" y="328.46" font-size="6.80" text-anchor="end" textLength="9.54" lengthAdjust="spacingAndGlyphs" style="stroke-width:0.28px">3.0</text>
<line x1="391.50" y1="309.43" x2="394.50" y2="309.43" stroke="#222" stroke-width="1.1"/>
<text x="389.30" y="311.63" font-size="6.80" text-anchor="end" textLength="9.54" lengthAdjust="spacingAndGlyphs" style="stroke-width:0.28px">3.5</text>
<line x1="391.50" y1="292.60" x2="394.50" y2="292.60" stroke="#222" stroke-width="1.1"/>
<text x="389.30" y="294.80" font-size="6.80" text-anchor="end" textLength="9.54" lengthAdjust="spacingAndGlyphs" style="stroke-width:0.28px">4.0</text>
<line x1="418.28" y1="410.40" x2="418.28" y2="413.20" stroke="#222" stroke-width="1.1"/>
<text x="418.28" y="420.90" font-size="6.80" text-anchor="middle" textLength="9.54" lengthAdjust="spacingAndGlyphs" style="stroke-width:0.28px">0.2</text>
<line x1="452.26" y1="410.40" x2="452.26" y2="413.20" stroke="#222" stroke-width="1.1"/>
<text x="452.26" y="420.90" font-size="6.80" text-anchor="middle" textLength="9.54" lengthAdjust="spacingAndGlyphs" style="stroke-width:0.28px">0.4</text>
<line x1="486.24" y1="410.40" x2="486.24" y2="413.20" stroke="#222" stroke-width="1.1"/>
<text x="486.24" y="420.90" font-size="6.80" text-anchor="middle" textLength="9.54" lengthAdjust="spacingAndGlyphs" style="stroke-width:0.28px">0.6</text>
<line x1="520.22" y1="410.40" x2="520.22" y2="413.20" stroke="#222" stroke-width="1.1"/>
<text x="520.22" y="420.90" font-size="6.80" text-anchor="middle" textLength="9.54" lengthAdjust="spacingAndGlyphs" style="stroke-width:0.28px">0.8</text>
<text x="401.80" y="304.80" font-size="8.40" text-anchor="start" textLength="27.19" lengthAdjust="spacingAndGlyphs" style="stroke-width:0.32px">(i) Sex</text>
<g transform="translate(15.2 67.40) rotate(-90)"><text x="0.00" y="0.00" font-size="9.60" text-anchor="middle" textLength="95.99" lengthAdjust="spacingAndGlyphs" style="stroke-width:0.35px">average error distance</text></g>
<g transform="translate(15.2 209.50) rotate(-90)"><text x="0.00" y="0.00" font-size="9.60" text-anchor="middle" textLength="95.99" lengthAdjust="spacingAndGlyphs" style="stroke-width:0.35px">average error distance</text></g>
<g transform="translate(15.2 351.50) rotate(-90)"><text x="0.00" y="0.00" font-size="9.60" text-anchor="middle" textLength="95.99" lengthAdjust="spacingAndGlyphs" style="stroke-width:0.35px">average error distance</text></g>
<text x="110.35" y="430.8" font-size="9.0" font-style="italic" text-anchor="middle" style="stroke-width:0.55px">&#946;</text>
<text x="289.75" y="430.8" font-size="9.0" font-style="italic" text-anchor="middle" style="stroke-width:0.55px">&#946;</text>
<text x="469.25" y="430.8" font-size="9.0" font-style="italic" text-anchor="middle" style="stroke-width:0.55px">&#946;</text>
<line x1="109.90" y1="443.40" x2="146.70" y2="443.40" stroke="#ff7f0e" stroke-width="1.3"/>
<polygon points="128.30,439.90 124.98,446.38 131.62,446.38" fill="#ff7f0e"/>
<text x="152.30" y="446.40" font-size="9.00" text-anchor="start" textLength="12.48" lengthAdjust="spacingAndGlyphs" style="stroke-width:0.30px">DC</text>
<line x1="182.20" y1="443.40" x2="219.00" y2="443.40" stroke="#8c32a8" stroke-width="1.3"/>
<polygon points="200.60,446.90 197.28,440.42 203.92,440.42" fill="#8c32a8"/>
<text x="224.20" y="446.40" font-size="9.00" text-anchor="start" textLength="8.44" lengthAdjust="spacingAndGlyphs" style="stroke-width:0.30px">JC</text>
<line x1="251.40" y1="443.40" x2="288.20" y2="443.40" stroke="#34ac34" stroke-width="1.3"/>
<rect x="266.08" y="439.68" width="7.45" height="7.45" fill="#34ac34"/>
<text x="293.30" y="446.40" font-size="9.00" text-anchor="start" textLength="18.62" lengthAdjust="spacingAndGlyphs" style="stroke-width:0.30px">GAU</text>
<line x1="330.00" y1="443.40" x2="366.80" y2="443.40" stroke="#1f77b4" stroke-width="1.3"/>
<circle cx="348.40" cy="443.40" r="3.50" fill="#1f77b4"/>
<text x="372.20" y="446.40" font-size="9.00" text-anchor="start" textLength="22.32" lengthAdjust="spacingAndGlyphs" style="stroke-width:0.30px">TRBS</text>
<line x1="412.20" y1="443.40" x2="449.00" y2="443.40" stroke="#ee1111" stroke-width="1.3"/>
<path d="M427.29 440.09L433.91 446.71M427.29 446.71L433.91 440.09" stroke="#ee1111" stroke-width="1.05" fill="none"/>
<text x="454.20" y="446.40" font-size="9.00" text-anchor="start" textLength="20.63" lengthAdjust="spacingAndGlyphs" style="stroke-width:0.30px">PESL</text>
</svg></body></html>
